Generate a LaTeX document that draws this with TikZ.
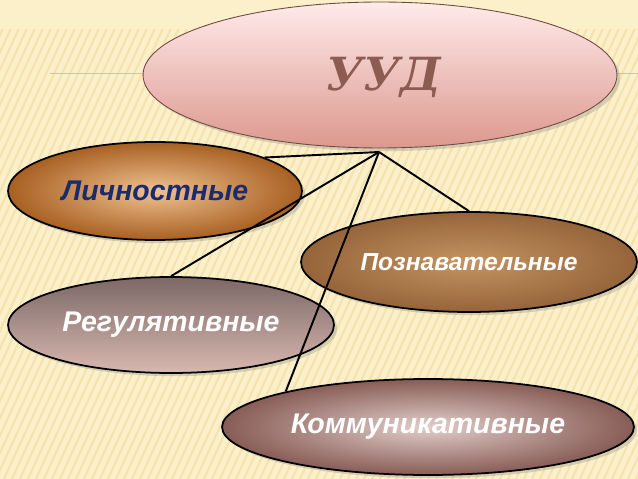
\documentclass[tikz,border=0pt]{standalone}
\usepackage{fontspec}
\setmainfont{Liberation Sans}
\newfontfamily\uudfont{DejaVu Serif}
\usepackage{tikz}
\usetikzlibrary{shapes.geometric,shadows}
\definecolor{paper}{HTML}{FBF0C9}
\definecolor{stripe}{HTML}{F4E3B0}
\definecolor{navy}{HTML}{1B2B6B}
\definecolor{uudtext}{HTML}{8C5C52}
\tikzset{
  oval/.style={ellipse, draw=black, line width=1pt, inner sep=0pt,
    drop shadow={opacity=0.3, shadow xshift=1.8pt, shadow yshift=-1.8pt}},
  word/.style={font=\bfseries\itshape\fontsize{16.2}{19}\selectfont, text=white},
  link/.style={draw=black, line width=1.1pt}
}

\begin{document}
\begin{tikzpicture}[x=0.02cm, y=-0.02cm]
% background
\useasboundingbox (0,0) rectangle (638,479);
\fill[paper] (0,0) rectangle (638,479);
\begin{scope}
  \clip (0,30) rectangle (638,479);
  \foreach \s in {-300,-292,...,640}
    \draw[stripe, line width=1.2pt] (\s,479) -- (\s+220,0);
\end{scope}
\draw[stripe!60!orange, line width=0.4pt] (50,73) -- (638,73);

% top oval
\node[oval, draw=uudtext!80!black, line width=0.5pt, top color=red!8!white, bottom color={rgb,255:red,220;green,152;blue,142},
  minimum width=9.48cm, minimum height=2.92cm] (uud) at (380,75) {};
\node[font=\uudfont\bfseries\itshape\fontsize{26}{30}\selectfont, text=uudtext] (uudlbl) at (384,77) {УУД};

% the four kinds
\node[oval, inner color={rgb,255:red,240;green,194;blue,146}, outer color={rgb,255:red,168;green,96;blue,34},
  minimum width=5.88cm, minimum height=1.96cm, word, text=navy] (lich) at (155,191) {Личностные};
\node[oval, inner color={rgb,255:red,196;green,148;blue,98}, outer color={rgb,255:red,150;green,100;blue,58},
  minimum width=6.72cm, minimum height=2cm, word, font=\bfseries\itshape\fontsize{14}{17}\selectfont] (poz) at (469,262) {Познавательные};
\node[oval, top color={rgb,255:red,124;green,104;blue,102}, bottom color={rgb,255:red,216;green,184;blue,176},
  minimum width=6.52cm, minimum height=1.92cm, word] (reg) at (171,325) {Регулятивные};
\node[oval, inner color={rgb,255:red,226;green,206;blue,202}, outer color={rgb,255:red,136;green,92;blue,86},
  minimum width=8.24cm, minimum height=1.92cm, word] (kom) at (428,427) {Коммуникативные};

% connectors
\coordinate (hub) at (379,152);
\draw[link] (hub) -- (lich.17);
\draw[link] (hub) -- (reg.north);
\draw[link] (hub) -- (poz.north);
\draw[link] (hub) -- (kom.166);
\end{tikzpicture}
\end{document}
